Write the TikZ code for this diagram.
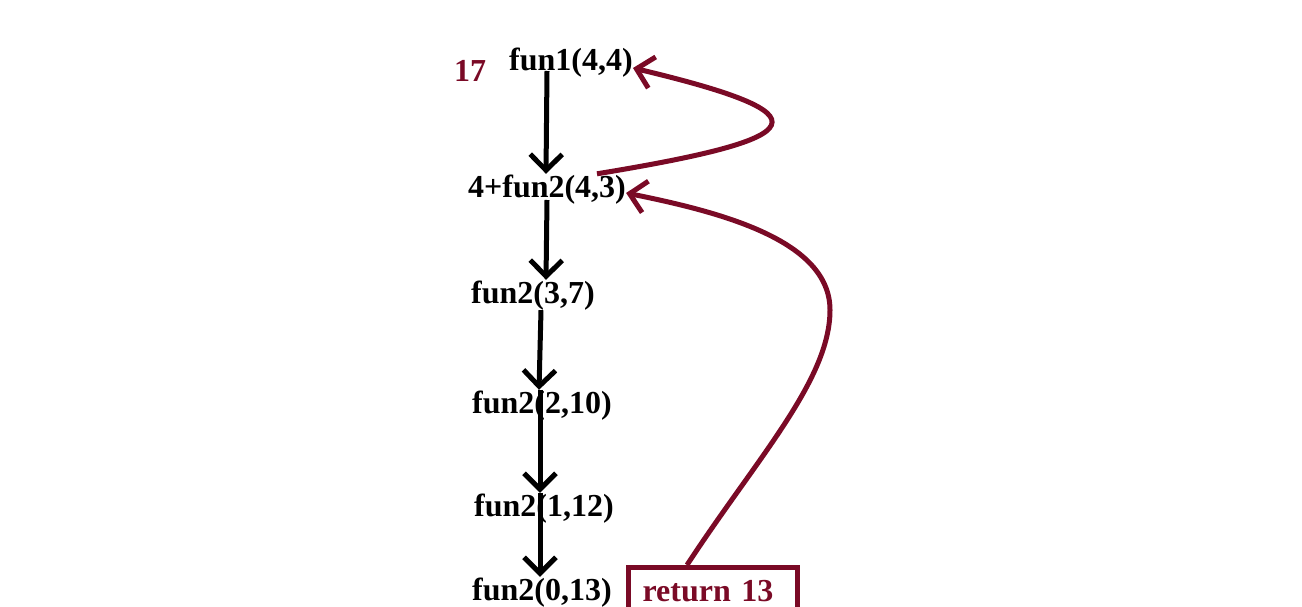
\documentclass[tikz,border=0pt]{standalone}
\usepackage{fontspec}
\setmainfont{Liberation Serif}
\usepackage{tikz}
\usetikzlibrary{arrows.meta,positioning}
\definecolor{retred}{RGB}{122,10,38}
\tikzstyle{arrow} = [line width=5pt, -{Straight Barb[length=16pt,width=32pt]}]
\tikzstyle{retarrow} = [arrow, draw=retred]

\begin{document}
\begin{tikzpicture}[x=1pt,y=-1pt]
\tikzset{call/.style={font=\fontsize{32}{38}\selectfont\bfseries,inner sep=0pt,text height=23pt,text depth=7pt}}
\useasboundingbox (0,0) rectangle (1302,607);

\node[call] (f1) at (571,63){fun1(4,4)};
\node[call] (f2) at (547,189){4+fun2(4,3)};
\node[call] (f3) at (533,295){fun2(3,7)};
\node[call] (f4) at (542,405){fun2(2,10)};
\node[call] (f5) at (544,508){fun2(1,12)};
\node[call] (f6) at (542,592){fun2(0,13)};
\node[call,text=retred] (total) at (470,74){17};
\node[call,text=retred,draw=retred,line width=5pt,anchor=north,text width=141pt,align=left,inner xsep=14pt,inner ysep=11pt] (ret) at (713,565){return 13};

\draw[arrow] ([xshift=-24pt]f1.base) -- ([xshift=-1pt]f2.north);
\draw[arrow] ([yshift=-3pt]f2.base) -- ([xshift=13pt]f3.north);
\draw[arrow] ([xshift=8pt]f3.south) -- ([xshift=-3pt]f4.north);
\draw[arrow] ([xshift=-2pt]f4.north) -- ([xshift=-4pt]f5.north);
\draw[arrow] ([xshift=-4pt]f5.north) -- ([xshift=-2pt]f6.north);

\draw[retarrow] ([xshift=50pt]f2.north) .. controls (815,138) and (830,115) .. ([yshift=3pt]f1.base east);
\draw[retarrow] ([xshift=-26pt]ret.north) .. controls (757,458) and (830,380) .. (830,310) .. controls (830,240) and (720,212) .. ([yshift=4pt]f2.base east);

\end{tikzpicture}
\end{document}
